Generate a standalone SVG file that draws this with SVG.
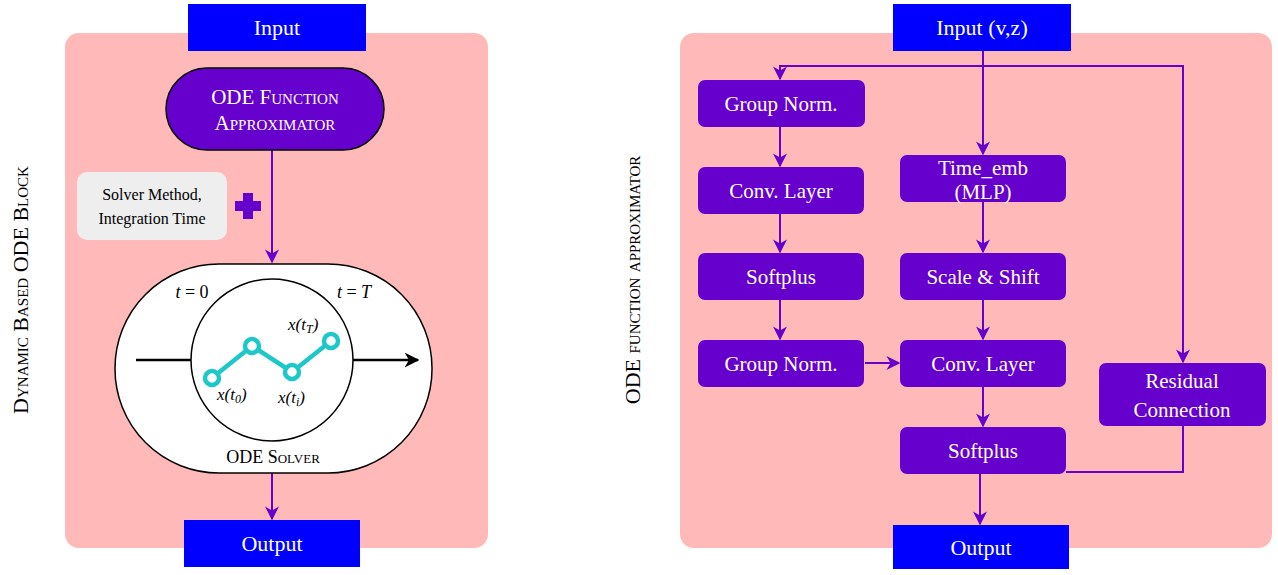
<svg xmlns="http://www.w3.org/2000/svg" width="1278" height="575" viewBox="0 0 1278 575">
<defs>
<marker id="ah" viewBox="0 0 10 10" refX="9" refY="5" markerWidth="7" markerHeight="7" orient="auto"><path d="M0,0 L10,5 L0,10 L3,5 Z" fill="#6600cc"/></marker>
<marker id="bh" viewBox="0 0 10 10" refX="9" refY="5" markerWidth="6" markerHeight="6" orient="auto"><path d="M0,0 L10,5 L0,10 L3,5 Z" fill="#000"/></marker>
<style>
text{font-family:"Liberation Serif","DejaVu Serif",serif}
.panel{fill:#ffb9b9}
.blue{fill:#0000ff}
.bt{fill:#fff;font-size:22px;text-anchor:middle}
.pb{fill:#6600cc}
.wt{fill:#fff;font-size:21px;text-anchor:middle}
.c{stroke:#6600cc;stroke-width:2;fill:none}
.sc{font-variant:small-caps}
.m{font-style:italic;font-size:17px;fill:#000}
.tl{fill:#1ec8c8;stroke:#1ec8c8}
</style>
</defs>
<rect class="panel" x="65" y="33" width="423" height="515" rx="14"/>
<rect class="panel" x="680" y="33" width="592" height="515" rx="14"/>
<text class="sc" transform="translate(28,290) rotate(-90)" font-size="22" text-anchor="middle">Dynamic Based ODE Block</text>
<text class="sc" transform="translate(640,280) rotate(-90)" font-size="22" text-anchor="middle">ODE function approximator</text>
<g id="connectors">
<line class="c" x1="272" y1="150" x2="272" y2="262" marker-end="url(#ah)"/>
<line class="c" x1="272" y1="473" x2="272" y2="519" marker-end="url(#ah)"/>
<polyline class="c" points="983,51 983,66"/>
<polyline class="c" points="983,66 780,66 780,79" marker-end="url(#ah)"/>
<polyline class="c" points="983,66 1183,66 1183,362" marker-end="url(#ah)"/>
<line class="c" x1="983" y1="66" x2="983" y2="154" marker-end="url(#ah)"/>
<line class="c" x1="780" y1="127" x2="780" y2="166" marker-end="url(#ah)"/>
<line class="c" x1="780" y1="214" x2="780" y2="252" marker-end="url(#ah)"/>
<line class="c" x1="780" y1="300" x2="780" y2="339" marker-end="url(#ah)"/>
<line class="c" x1="865" y1="363" x2="899" y2="363" marker-end="url(#ah)"/>
<line class="c" x1="983" y1="202" x2="983" y2="252" marker-end="url(#ah)"/>
<line class="c" x1="983" y1="300" x2="983" y2="339" marker-end="url(#ah)"/>
<line class="c" x1="983" y1="387" x2="983" y2="426" marker-end="url(#ah)"/>
<line class="c" x1="980" y1="474" x2="980" y2="524" marker-end="url(#ah)"/>
<polyline class="c" points="1183,426 1183,472 1066,472"/>
</g>
<g id="input1"><rect class="blue" x="188" y="4" width="178" height="47"/><text class="bt" x="277" y="35">Input</text></g>
<g id="output1"><rect class="blue" x="184" y="520" width="176" height="47"/><text class="bt" x="272" y="551">Output</text></g>
<g id="odefa"><rect class="pb" x="166" y="68" width="218" height="82" rx="41" stroke="#000" stroke-width="1.5"/>
<text class="wt sc" x="275" y="104" font-size="20">ODE Function</text><text class="wt sc" x="275" y="130" font-size="20">Approximator</text></g>
<g id="solverparams"><rect x="77" y="172" width="150" height="68" rx="10" fill="#eeeeee"/>
<text x="152" y="200" font-size="16" text-anchor="middle">Solver Method,</text><text x="152" y="224" font-size="16" text-anchor="middle">Integration Time</text></g>
<g id="plus"><rect class="pb" x="235" y="201" width="26" height="10"/><rect class="pb" x="243" y="193" width="10" height="26"/></g>
<g id="odesolver">
<rect x="115" y="264" width="317" height="209" rx="104" fill="#fff" stroke="#000" stroke-width="1.5"/>
<line x1="136" y1="360" x2="191" y2="360" stroke="#000" stroke-width="2.5"/>
<line x1="353" y1="360" x2="418" y2="360" stroke="#000" stroke-width="2.5" marker-end="url(#bh)"/>
<circle cx="272" cy="360" r="81" fill="#fff" stroke="#000" stroke-width="1.5"/>
<polyline points="212,378 252,346 292,372 331,341" fill="none" stroke="#1ec8c8" stroke-width="4.5"/>
<g fill="#fff" stroke="#1ec8c8" stroke-width="4.5"><circle cx="212" cy="378" r="7"/><circle cx="252" cy="346" r="7"/><circle cx="292" cy="372" r="7"/><circle cx="331" cy="341" r="7"/></g>
<text class="m" x="217" y="400">x(t<tspan font-size="12" dy="3">0</tspan><tspan dy="-3">)</tspan></text>
<text class="m" x="278" y="403">x(t<tspan font-size="12" dy="3">i</tspan><tspan dy="-3">)</tspan></text>
<text class="m" x="288" y="330">x(t<tspan font-size="12" dy="3">T</tspan><tspan dy="-3">)</tspan></text>
<text x="192" y="298" font-size="18" text-anchor="middle"><tspan font-style="italic">t</tspan> = 0</text>
<text x="354" y="298" font-size="18" text-anchor="middle"><tspan font-style="italic">t</tspan> = <tspan font-style="italic">T</tspan></text>
<text class="sc" x="273" y="463" font-size="18" text-anchor="middle">ODE Solver</text>
</g>
<g id="input2"><rect class="blue" x="893" y="4" width="178" height="47"/><text class="bt" x="982" y="35">Input (v,z)</text></g>
<g id="output2"><rect class="blue" x="893" y="525" width="176" height="44"/><text class="bt" x="981" y="555">Output</text></g>
<g id="gn1"><rect class="pb" x="698" y="80" width="167" height="47" rx="7"/><text class="wt" x="781" y="111">Group Norm.</text></g>
<g id="conv1"><rect class="pb" x="698" y="167" width="166" height="47" rx="7"/><text class="wt" x="781" y="198">Conv. Layer</text></g>
<g id="sp1"><rect class="pb" x="698" y="253" width="166" height="47" rx="7"/><text class="wt" x="781" y="284">Softplus</text></g>
<g id="gn2"><rect class="pb" x="698" y="340" width="166" height="47" rx="7"/><text class="wt" x="781" y="371">Group Norm.</text></g>
<g id="temb"><rect class="pb" x="900" y="155" width="166" height="47" rx="7"/><text class="wt" x="983" y="175" font-size="18">Time_emb</text><text class="wt" x="983" y="199" font-size="18">(MLP)</text></g>
<g id="ss"><rect class="pb" x="900" y="253" width="166" height="47" rx="7"/><text class="wt" x="983" y="284">Scale &amp; Shift</text></g>
<g id="conv2"><rect class="pb" x="900" y="340" width="166" height="47" rx="7"/><text class="wt" x="983" y="371">Conv. Layer</text></g>
<g id="sp2"><rect class="pb" x="900" y="427" width="166" height="47" rx="7"/><text class="wt" x="983" y="458">Softplus</text></g>
<g id="res"><rect class="pb" x="1099" y="363" width="167" height="63" rx="7"/><text class="wt" x="1182" y="388">Residual</text><text class="wt" x="1182" y="417">Connection</text></g>
</svg>
